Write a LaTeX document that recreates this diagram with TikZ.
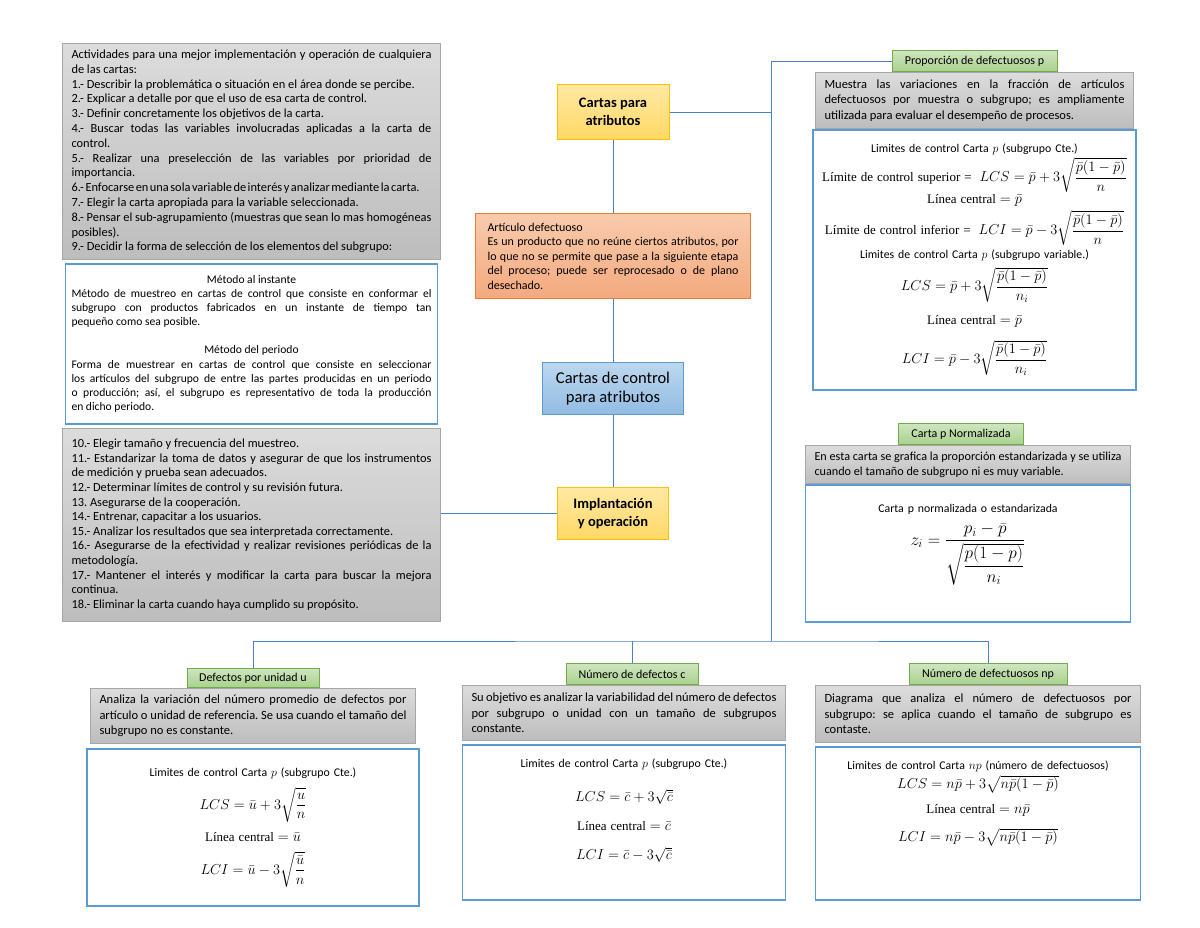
\documentclass[tikz,border=0pt]{standalone}
\usepackage{fontspec}
\usepackage{amsmath}
\setmainfont{Carlito}
\newfontfamily\tnr{Liberation Serif}
\usetikzlibrary{positioning}
\frenchspacing
\hyphenpenalty=10000
\exhyphenpenalty=10000
\definecolor{enlaceC}{HTML}{4A7FD0}
\definecolor{azulB}{HTML}{5B9BD5}
\definecolor{grisA}{HTML}{DCDCDC}
\definecolor{grisZ}{HTML}{BDBDBD}
\definecolor{grisB}{HTML}{A6A6A6}
\definecolor{verdeA}{HTML}{CFE5C0}
\definecolor{verdeZ}{HTML}{A9D18E}
\definecolor{verdeB}{HTML}{70AD47}
\definecolor{amarA}{HTML}{FFE8A3}
\definecolor{amarZ}{HTML}{FFD966}
\definecolor{amarB}{HTML}{FFC000}
\definecolor{salmA}{HTML}{F8CBAD}
\definecolor{salmZ}{HTML}{F4A97E}
\definecolor{salmB}{HTML}{ED7D31}
\definecolor{celA}{HTML}{BDD7EE}
\definecolor{celZ}{HTML}{92BCE3}
\newcommand{\tx}[1]{\mbox{\fontsize{13}{15}\selectfont\tnr #1}}
\newcommand{\fo}[1]{{\fontsize{14.4}{16}\selectfont\mbox{#1}}}
\newcommand{\apretado}{\spaceskip=0.12em plus 0.05em minus 0.04em\relax}
\tikzset{
  caja/.style n args={3}{rectangle, draw=#1, top color=#2, bottom color=#3, line width=1pt,
    align=center, font=\bfseries\fontsize{14.5}{18}\selectfont, inner sep=0pt},
  gris/.style={rectangle, draw=grisB, top color=grisA, bottom color=grisZ, line width=1pt,
    align=justify, font=\fontsize{12.5}{15.5}\selectfont, inner xsep=9pt, inner ysep=3pt},
  blanca/.style={rectangle, draw=azulB, line width=1.6pt, fill=white, align=center,
    font=\fontsize{11.8}{14}\selectfont, inner xsep=6pt, inner ysep=5pt},
  etiq/.style={rectangle, draw=verdeB, top color=verdeA, bottom color=verdeZ, line width=0.8pt,
    font=\fontsize{12}{14}\selectfont, minimum height=21pt, inner xsep=0pt},
  enlace/.style={draw=enlaceC, line width=1pt},
}
\begin{document}
\begin{tikzpicture}[x=1pt, y=-1pt, node distance=3pt]
\useasboundingbox (0,0) rectangle (1200,927);
% columna izquierda
\node[gris, anchor=north west, text width=360pt, minimum height=216pt,
      font=\fontsize{12.4}{14.8}\selectfont] (act) at (62,43)
  {Actividades para una mejor implementación y operación de cualquiera\linebreak de las cartas:\par
   1.- Describir la problemática o situación en el área donde se percibe.\par
   2.- Explicar a detalle por que el uso de esa carta de control.\par
   3.- Definir concretamente los objetivos de la carta.\par
   4.- Buscar todas las variables involucradas aplicadas a la carta de\linebreak control.\par
   5.- Realizar una preselección de las variables por prioridad de\linebreak importancia.\par
   {\apretado 6.- Enfocarse en una sola variable de interés y analizar mediante la carta.\par}
   7.- Elegir la carta apropiada para la variable seleccionada.\par
   {\apretado 8.- Pensar el sub-agrupamiento (muestras que sean lo mas homogéneas\linebreak posibles).\par}
   9.- Decidir la forma de selección de los elementos del subgrupo:};
\node[blanca, below=3pt of act, align=justify, font=\fontsize{11.6}{14.2}\selectfont,
      text width=360pt, minimum height=160pt] (met)
  {\centerline{Método al instante}
   Método de muestreo en cartas de control que consiste en conformar el\linebreak subgrupo con productos fabricados en un instante de tiempo tan\linebreak pequeño como sea posible.\par\vspace{14pt}
   \centerline{Método del periodo}
   Forma de muestrear en cartas de control que consiste en seleccionar\linebreak los artículos del subgrupo de entre las partes producidas en un periodo\linebreak o producción; así, el subgrupo es representativo de toda la producción\linebreak en dicho periodo.};
\node[gris, below=3pt of met, text width=360pt, minimum height=193pt,
      font=\fontsize{12.4}{14.6}\selectfont] (pasos)
  {10.- Elegir tamaño y frecuencia del muestreo.\par
   11.- Estandarizar la toma de datos y asegurar de que los instrumentos\linebreak de medición y prueba sean adecuados.\par
   12.- Determinar límites de control y su revisión futura.\par
   13. Asegurarse de la cooperación.\par
   14.- Entrenar, capacitar a los usuarios.\par
   15.- Analizar los resultados que sea interpretada correctamente.\par
   16.- Asegurarse de la efectividad y realizar revisiones periódicas de la\linebreak metodología.\par
   17.- Mantener el interés y modificar la carta para buscar la mejora\linebreak continua.\par
   18.- Eliminar la carta cuando haya cumplido su propósito.};
% columna central
\node[caja={amarB}{amarA}{amarZ}, minimum width=112pt, minimum height=55pt] (cartas) at (613,112) {Cartas para\\atributos};
\node[caja={salmB}{salmA}{salmZ}, below=73pt of cartas, font=\fontsize{12}{14.5}\selectfont,
      align=justify, text width=251pt, inner xsep=12pt, minimum height=85pt] (artic)
  {Artículo defectuoso\par
   Es un producto que no reúne ciertos atributos, por lo que no se permite que pase a la siguiente etapa del proceso; puede ser reprocesado o de plano desechado.};
\node[caja={azulB}{celA}{celZ}, below=63pt of artic, font=\fontsize{16.5}{19}\selectfont,
      minimum width=141pt, minimum height=52pt] (ccpa) {Cartas de control\\para atributos};
\node[caja={amarB}{amarA}{amarZ}, below=72pt of ccpa, minimum width=111pt, minimum height=52pt] (impl) {Implantación\\y operación};
% proporcion p
\node[gris, anchor=north west, text width=300pt, minimum height=56pt] (propd) at (815,72)
  {Muestra las variaciones en la fracción de artículos\linebreak defectuosos por muestra o subgrupo; es ampliamente\linebreak utilizada para evaluar el desempeño de procesos.};
\node[etiq, above=0pt of propd, minimum width=165pt] (propp) {Proporción de defectuosos p};
\node[blanca, below=0pt of propd, text width=311pt, minimum height=260pt] (propf)
  {Limites de control Carta $p$ (subgrupo Cte.)\\[2pt]
   \fo{\tx{Límite de control superior =}\; $LCS=\bar p+3\sqrt{\dfrac{\bar p(1-\bar p)}{n}}$}\\[1pt]
   \fo{\tx{Línea central} $=\bar p$}\\[3pt]
   \fo{\tx{Límite de control inferior =}\; $LCI=\bar p-3\sqrt{\dfrac{\bar p(1-\bar p)}{n}}$}\\[3pt]
   Limites de control Carta $p$ (subgrupo variable.)\\[6pt]
   \fo{$LCS=\bar p+3\sqrt{\dfrac{\bar p(1-\bar p)}{n_i}}$}\\[12pt]
   \fo{\tx{Línea central} $=\bar p$}\\[12pt]
   \fo{$LCI=\bar p-3\sqrt{\dfrac{\bar p(1-\bar p)}{n_i}}$}};
% carta p normalizada
\node[gris, anchor=north west, text width=307pt, minimum height=38pt,
      font=\fontsize{12.2}{15}\selectfont] (normd) at (805,445)
  {En esta carta se grafica la proporción estandarizada y se utiliza\linebreak cuando el tamaño de subgrupo ni es muy variable.};
\node[etiq, above=0pt of normd, xshift=-7pt, minimum width=125pt] (normp) {Carta p Normalizada};
\node[blanca, below=0pt of normd, text width=313pt, minimum height=137pt] (normf)
  {Carta p normalizada o estandarizada\\[8pt]
   {\fontsize{17.28}{19}\selectfont\mbox{$z_i=\dfrac{p_i-\bar p}{\sqrt{\dfrac{p(1-p)}{n_i}}}$}}\\[16pt]\mbox{}};
% defectos por unidad u
\node[gris, anchor=north west, text width=307pt, minimum height=55pt] (defud) at (90,688)
  {Analiza la variación del número promedio de defectos por\linebreak artículo o unidad de referencia. Se usa cuando el tamaño del\linebreak subgrupo no es constante.};
\node[etiq, above=0pt of defud, minimum width=132pt, minimum height=19pt] (defu) {Defectos por unidad u};
\node[blanca, below=4pt of defud, text width=320pt, minimum height=157pt] (defuf)
  {Limites de control Carta $p$ (subgrupo Cte.)\\[8pt]
   \fo{$LCS=\bar u+3\sqrt{\dfrac{u}{n}}$}\\[9pt]
   \fo{\tx{Línea central} $=\bar u$}\\[9pt]
   \fo{$LCI=\bar u-3\sqrt{\dfrac{\bar u}{n}}$}};
% numero de defectos c
\node[gris, anchor=north west, text width=305pt, minimum height=55pt] (defcd) at (462,685)
  {Su objetivo es analizar la variabilidad del número de defectos\linebreak por subgrupo o unidad con un tamaño de subgrupos\linebreak constante.};
\node[etiq, above=0pt of defcd, xshift=8pt, minimum width=132pt] (defc) {Número de defectos c};
\node[blanca, below=3pt of defcd, text width=311pt, minimum height=155pt] (defcf)
  {Limites de control Carta $p$ (subgrupo Cte.)\\[18pt]
   \fo{$LCS=\bar c+3\sqrt{\bar c}$}\\[15pt]
   \fo{\tx{Línea central} $=\bar c$}\\[15pt]
   \fo{$LCI=\bar c-3\sqrt{\bar c}$}\\[12pt]\mbox{}};
% numero de defectuosos np
\node[gris, anchor=north west, text width=307pt, minimum height=57pt] (defnpd) at (815,685)
  {Diagrama que analiza el número de defectuosos por\linebreak subgrupo: se aplica cuando el tamaño de subgrupo es\linebreak contaste.};
\node[etiq, above=0pt of defnpd, xshift=10pt, minimum width=158pt] (defnp) {Número de defectuosos np};
\node[blanca, below=3pt of defnpd, text width=313pt, minimum height=153pt] (defnpf)
  {Limites de control Carta $np$ (número de defectuosos)\\[2pt]
   \fo{$LCS=n\bar p+3\sqrt{n\bar p(1-\bar p)}$}\\[11pt]
   \fo{\tx{Línea central} $=n\bar p$}\\[11pt]
   \fo{$LCI=n\bar p-3\sqrt{n\bar p(1-\bar p)}$}\\[30pt]\mbox{}};
% enlaces
\coordinate (nudo) at (771,641);
\draw[enlace] (cartas) -- (artic) (artic) -- (ccpa) (ccpa) -- (impl);
\draw[enlace] (impl.west) -- (impl.west -| pasos.east);
\draw[enlace] (cartas.east) -- (cartas.east -| nudo);
\draw[enlace] (propp.west) -| (nudo);
\draw[enlace] (defu.north) |- (nudo) -| (defnp.north);
\draw[enlace] (defc.north) -- (defc.north |- nudo);
\end{tikzpicture}
\end{document}
